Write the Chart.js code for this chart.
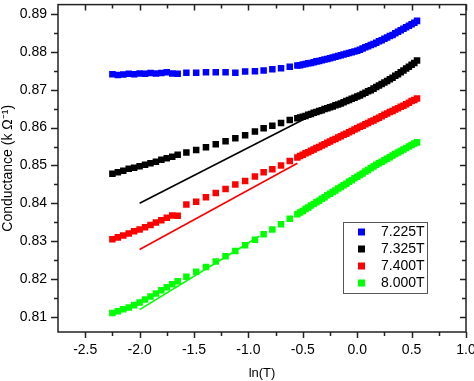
<!DOCTYPE html>
<html>
<head>
<meta charset="utf-8">
<script src="https://cdn.jsdelivr.net/npm/chart.js@4.4.1/dist/chart.umd.min.js"></script>
<style>
  html, body { margin: 0; padding: 0; background: #fff; }
  #wrap { width: 474px; height: 381px; }
</style>
</head>
<body>
<div id="wrap"><canvas id="conductanceChart"></canvas></div>
<script>
// ln(T) values shared by the four sweeps
const lnT = [
  -2.25, -2.20, -2.15, -2.10, -2.05, -2.00, -1.95, -1.90, -1.85, -1.80, -1.75, -1.70, -1.65,
  -1.57, -1.48, -1.39, -1.30, -1.21, -1.12, -1.03, -0.94, -0.86, -0.78, -0.70, -0.62,
  -0.550, -0.525, -0.500, -0.475, -0.450, -0.425, -0.400, -0.375, -0.350, -0.325, -0.300,
  -0.275, -0.250, -0.225, -0.200, -0.175, -0.150, -0.125, -0.100, -0.075, -0.050, -0.025,
  0.000, 0.025, 0.050, 0.075, 0.100, 0.125, 0.150, 0.175, 0.200, 0.225, 0.250,
  0.275, 0.300, 0.325, 0.350, 0.375, 0.400, 0.425, 0.450, 0.475, 0.500, 0.525, 0.550
];

// Conductance (k Ohm^-1)
const g7225 = [
  0.8741, 0.8739, 0.8740, 0.8742, 0.8741, 0.8743, 0.8742, 0.8744, 0.8743, 0.8744, 0.8746, 0.8743, 0.8742,
  0.8745, 0.8745, 0.8746, 0.8746, 0.8746, 0.8745, 0.8748, 0.8749, 0.8751, 0.8754, 0.8757, 0.8761,
  0.8764, 0.8765, 0.8767, 0.8768, 0.8770, 0.8771, 0.8773, 0.8775, 0.8776, 0.8778, 0.8780,
  0.8781, 0.8783, 0.8785, 0.8787, 0.8789, 0.8791, 0.8793, 0.8795, 0.8797, 0.8799, 0.8801,
  0.8803, 0.8806, 0.8809, 0.8812, 0.8815, 0.8818, 0.8821, 0.8824, 0.8828, 0.8831, 0.8835,
  0.8838, 0.8842, 0.8845, 0.8849, 0.8853, 0.8857, 0.8861, 0.8865, 0.8869, 0.8873, 0.8877, 0.8882
];
const g7325 = [
  0.8478, 0.8482, 0.8486, 0.8491, 0.8494, 0.8498, 0.8502, 0.8506, 0.8510, 0.8515, 0.8519, 0.8523, 0.8528,
  0.8534, 0.8541, 0.8548, 0.8556, 0.8564, 0.8572, 0.8580, 0.8590, 0.8598, 0.8605, 0.8612, 0.8620,
  0.8625, 0.8627, 0.8629, 0.8631, 0.8634, 0.8636, 0.8639, 0.8641, 0.8644, 0.8646, 0.8649,
  0.8651, 0.8654, 0.8656, 0.8659, 0.8661, 0.8664, 0.8667, 0.8670, 0.8673, 0.8676, 0.8679,
  0.8682, 0.8685, 0.8689, 0.8692, 0.8696, 0.8699, 0.8703, 0.8707, 0.8711, 0.8715, 0.8719,
  0.8723, 0.8728, 0.8732, 0.8737, 0.8741, 0.8746, 0.8751, 0.8756, 0.8761, 0.8766, 0.8771, 0.8777
];
const g7400 = [
  0.8305, 0.8310, 0.8315, 0.8320, 0.8326, 0.8331, 0.8337, 0.8343, 0.8349, 0.8355, 0.8362, 0.8368, 0.8367,
  0.8397, 0.8404, 0.8416, 0.8427, 0.8438, 0.8450, 0.8459, 0.8471, 0.8482, 0.8490, 0.8500, 0.8512,
  0.8521, 0.8525, 0.8528, 0.8532, 0.8535, 0.8539, 0.8542, 0.8546, 0.8549, 0.8553, 0.8556,
  0.8560, 0.8563, 0.8567, 0.8570, 0.8574, 0.8577, 0.8581, 0.8584, 0.8588, 0.8591, 0.8595,
  0.8598, 0.8602, 0.8605, 0.8609, 0.8612, 0.8616, 0.8619, 0.8623, 0.8626, 0.8630, 0.8634,
  0.8637, 0.8641, 0.8644, 0.8648, 0.8651, 0.8655, 0.8658, 0.8662, 0.8666, 0.8670, 0.8673, 0.8677
];
const g8000 = [
  0.8110, 0.8115, 0.8120, 0.8125, 0.8131, 0.8138, 0.8146, 0.8154, 0.8162, 0.8170, 0.8178, 0.8186, 0.8194,
  0.8206, 0.8219, 0.8232, 0.8246, 0.8260, 0.8274, 0.8289, 0.8304, 0.8318, 0.8331, 0.8345, 0.8359,
  0.8371, 0.8376, 0.8380, 0.8385, 0.8389, 0.8394, 0.8398, 0.8403, 0.8407, 0.8412, 0.8416,
  0.8421, 0.8425, 0.8430, 0.8434, 0.8439, 0.8443, 0.8448, 0.8452, 0.8457, 0.8461, 0.8466,
  0.8470, 0.8475, 0.8479, 0.8484, 0.8488, 0.8493, 0.8497, 0.8502, 0.8506, 0.8510, 0.8514,
  0.8518, 0.8522, 0.8526, 0.8530, 0.8534, 0.8538, 0.8542, 0.8546, 0.8550, 0.8554, 0.8558, 0.8561
];

// Straight fit lines (start / end points)
const fit7325X = [-2.0, -0.45];
const fit7325Y = [0.8400, 0.8628];
const fit7400X = [-2.0, -0.55];
const fit7400Y = [0.8278, 0.8506];
const fit8000X = [-2.0, -0.90];
const fit8000Y = [0.8119, 0.8313];

const seriesLabels = ['7.225T', '7.325T', '7.400T', '8.000T'];
const seriesColors = ['#0000ff', '#000000', '#ff0000', '#00ff00'];

const xMajorTicks = [-2.5, -2.0, -1.5, -1.0, -0.5, 0.0, 0.5, 1.0];
const xMinorTicks = [-2.25, -1.75, -1.25, -0.75, -0.25, 0.25, 0.75];
const yMajorTicks = [0.81, 0.82, 0.83, 0.84, 0.85, 0.86, 0.87, 0.88, 0.89];
const yMinorTicks = [0.815, 0.825, 0.835, 0.845, 0.855, 0.865, 0.875, 0.885];

function toPoints(xs, ys) {
  return xs.map((v, i) => ({ x: v, y: ys[i] }));
}

const FONT = 'Arial, "Liberation Sans", Helvetica, sans-serif';

// Marco con ticks hacia dentro/fuera y leyenda dentro del área
const frameAndLegend = {
  id: 'frameAndLegend',
  afterDraw(chart) {
    const { ctx, chartArea: a, scales: { x, y } } = chart;
    ctx.save();
    ctx.strokeStyle = '#222';
    ctx.lineWidth = 1.5;
    ctx.strokeRect(a.left, a.top, a.right - a.left, a.bottom - a.top);

    ctx.beginPath();
    xMajorTicks.forEach(v => {
      const px = Math.round(x.getPixelForValue(v)) + 0.5;
      ctx.moveTo(px, a.bottom); ctx.lineTo(px, a.bottom + 6);
      ctx.moveTo(px, a.top); ctx.lineTo(px, a.top + 6);
    });
    xMinorTicks.forEach(v => {
      const px = Math.round(x.getPixelForValue(v)) + 0.5;
      ctx.moveTo(px, a.bottom); ctx.lineTo(px, a.bottom + 4);
      ctx.moveTo(px, a.top); ctx.lineTo(px, a.top + 4);
    });
    yMajorTicks.forEach(v => {
      const py = Math.round(y.getPixelForValue(v)) + 0.5;
      ctx.moveTo(a.left, py); ctx.lineTo(a.left - 7, py);
      ctx.moveTo(a.right, py); ctx.lineTo(a.right - 6, py);
    });
    yMinorTicks.forEach(v => {
      const py = Math.round(y.getPixelForValue(v)) + 0.5;
      ctx.moveTo(a.left, py); ctx.lineTo(a.left - 4, py);
      ctx.moveTo(a.right, py); ctx.lineTo(a.right - 4, py);
    });
    ctx.stroke();

    // Leyenda
    const bx = 343, by = 222, bw = 84, bh = 71;
    ctx.fillStyle = '#fff';
    ctx.fillRect(bx, by, bw, bh);
    ctx.strokeStyle = '#555';
    ctx.lineWidth = 1;
    ctx.strokeRect(bx + 0.5, by + 0.5, bw, bh);
    ctx.font = '14px ' + FONT;
    ctx.textBaseline = 'middle';
    ctx.textAlign = 'left';
    seriesLabels.forEach((lab, i) => {
      const cy = by + 10 + i * 17;
      ctx.fillStyle = seriesColors[i];
      ctx.fillRect(bx + 15, cy - 3.5, 7, 7);
      ctx.fillStyle = '#000';
      ctx.fillText(lab, bx + 38, cy + 0.5);
    });
    ctx.restore();
  }
};

const lineStyle = (color) => ({
  type: 'line',
  borderColor: color,
  borderWidth: 1.6,
  pointRadius: 0,
  fill: false
});
const markerStyle = (color) => ({
  type: 'scatter',
  backgroundColor: color,
  borderColor: color,
  pointStyle: 'rect',
  pointRadius: 4.6,
  pointBorderWidth: 0,
  pointHoverRadius: 4.6
});

const ctx = document.getElementById('conductanceChart').getContext('2d');
new Chart(ctx, {
  data: {
    datasets: [
      { ...lineStyle('#000000'), data: toPoints(fit7325X, fit7325Y) },
      { ...lineStyle('#ff0000'), data: toPoints(fit7400X, fit7400Y) },
      { ...lineStyle('#00ff00'), data: toPoints(fit8000X, fit8000Y) },
      { ...markerStyle(seriesColors[0]), label: seriesLabels[0], data: toPoints(lnT, g7225) },
      { ...markerStyle(seriesColors[1]), label: seriesLabels[1], data: toPoints(lnT, g7325) },
      { ...markerStyle(seriesColors[2]), label: seriesLabels[2], data: toPoints(lnT, g7400) },
      { ...markerStyle(seriesColors[3]), label: seriesLabels[3], data: toPoints(lnT, g8000) }
    ]
  },
  options: {
    responsive: true,
    maintainAspectRatio: false,
    animation: false,
    devicePixelRatio: 1,
    layout: { padding: { top: 1, right: 8, left: 0, bottom: 0 } },
    plugins: {
      legend: { display: false },
      tooltip: { enabled: false }
    },
    scales: {
      x: {
        type: 'linear',
        min: -2.75,
        max: 1.0,
        afterFit: s => {
          s.height = 49;
          s.paddingLeft = 0; s.paddingRight = 0;
        },
        afterBuildTicks: s => { s.ticks = xMajorTicks.map(v => ({ value: v })); },
        grid: { display: false, drawTicks: false },
        border: { display: false },
        ticks: {
          padding: 10,
          color: '#000',
          font: { family: FONT, size: 14 },
          maxRotation: 0,
          callback: v => v.toFixed(1)
        },
        title: {
          display: true,
          text: 'ln(T)',
          color: '#000',
          font: { family: FONT, size: 13 },
          padding: { top: 0, bottom: 0 }
        }
      },
      y: {
        type: 'linear',
        min: 0.806,
        max: 0.8925,
        afterFit: s => {
          s.width = 58;
          s.paddingTop = 0; s.paddingBottom = 0;
        },
        afterBuildTicks: s => { s.ticks = yMajorTicks.map(v => ({ value: v })); },
        grid: { display: false, drawTicks: false },
        border: { display: false },
        ticks: {
          padding: 11,
          color: '#000',
          font: { family: FONT, size: 14 },
          callback: v => v.toFixed(2)
        },
        title: {
          display: true,
          text: 'Conductance (k Ω⁻¹)',
          color: '#000',
          font: { family: FONT, size: 14 },
          padding: { top: 0, bottom: 0 }
        }
      }
    }
  },
  plugins: [frameAndLegend]
});
</script>
</body>
</html>
